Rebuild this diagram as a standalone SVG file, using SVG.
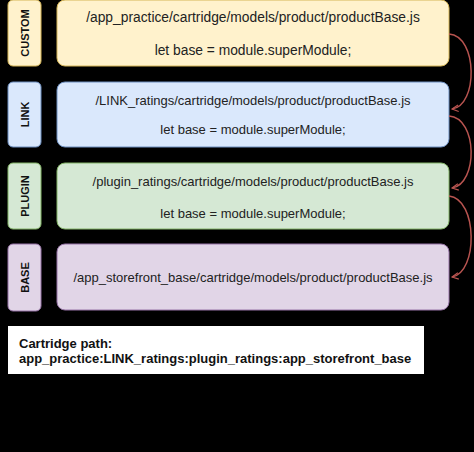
<svg xmlns="http://www.w3.org/2000/svg" width="474" height="452" viewBox="0 0 474 452">
<style>
.main{font-family:"Liberation Sans",Arial,sans-serif;font-size:13px;fill:#222;text-anchor:middle}
.big{font-size:13.8px}
.lbl{font-family:"Liberation Sans",Arial,sans-serif;font-size:11px;font-weight:bold;fill:#111;text-anchor:middle}
.path{font-family:"Liberation Sans",Arial,sans-serif;font-size:13px;font-weight:bold;fill:#111}
.y{fill:#fff2cc;stroke:#d6b656}
.b{fill:#dae8fc;stroke:#6c8ebf}
.g{fill:#d5e8d4;stroke:#82b366}
.p{fill:#e1d5e7;stroke:#9673a6}
.conn{fill:none;stroke:#b85450;stroke-width:1.5}
</style>
<defs>
<marker id="arr" viewBox="0 0 10 10" refX="9" refY="5" markerWidth="8" markerHeight="8" orient="auto" markerUnits="userSpaceOnUse">
<path d="M1,1 L9,5 L1,9" fill="none" stroke="#b85450" stroke-width="1.5"/>
</marker>
</defs>
<rect x="0" y="0" width="474" height="452" fill="#000"/>
<g id="custom">
<rect class="y" x="8" y="0" width="33" height="66" rx="5"/>
<text class="lbl" transform="translate(28.5,33) rotate(-90)">CUSTOM</text>
<rect class="y" x="57" y="0" width="392" height="66" rx="8"/>
<text class="main big" x="253" y="22">/app_practice/cartridge/models/product/productBase.js</text>
<text class="main big" x="253" y="55">let base = module.superModule;</text>
</g>
<g id="link">
<rect class="b" x="8" y="82" width="33" height="65" rx="5"/>
<text class="lbl" transform="translate(28.5,114.5) rotate(-90)">LINK</text>
<rect class="b" x="57" y="82" width="392" height="65" rx="8"/>
<text class="main" x="253" y="104.5">/LINK_ratings/cartridge/models/product/productBase.js</text>
<text class="main" x="253" y="133.5">let base = module.superModule;</text>
</g>
<g id="plugin">
<rect class="g" x="8" y="163" width="33" height="66" rx="5"/>
<text class="lbl" transform="translate(28.5,196) rotate(-90)">PLUGIN</text>
<rect class="g" x="57" y="163" width="392" height="66" rx="8"/>
<text class="main" x="253" y="185.5">/plugin_ratings/cartridge/models/product/productBase.js</text>
<text class="main" x="253" y="217.5">let base = module.superModule;</text>
</g>
<g id="base">
<rect class="p" x="8" y="244" width="33" height="67" rx="5"/>
<text class="lbl" transform="translate(28.5,277.5) rotate(-90)">BASE</text>
<rect class="p" x="57" y="244" width="392" height="66" rx="8"/>
<text class="main" x="253" y="281.5">/app_storefront_base/cartridge/models/product/productBase.js</text>
</g>
<g id="cartridge-path">
<rect x="8" y="326" width="416" height="48" fill="#fff"/>
<text class="path" x="19" y="348">Cartridge path:</text>
<text class="path" x="19" y="363">app_practice:LINK_ratings:plugin_ratings:app_storefront_base</text>
</g>
<g id="connectors">
<path class="conn" d="M449,34 C478,36 478,106 452,109" marker-end="url(#arr)"/>
<path class="conn" d="M449,116 C478,118 478,184 452,188" marker-end="url(#arr)"/>
<path class="conn" d="M449,196 C478,199 478,273 452,277" marker-end="url(#arr)"/>
</g>
</svg>
